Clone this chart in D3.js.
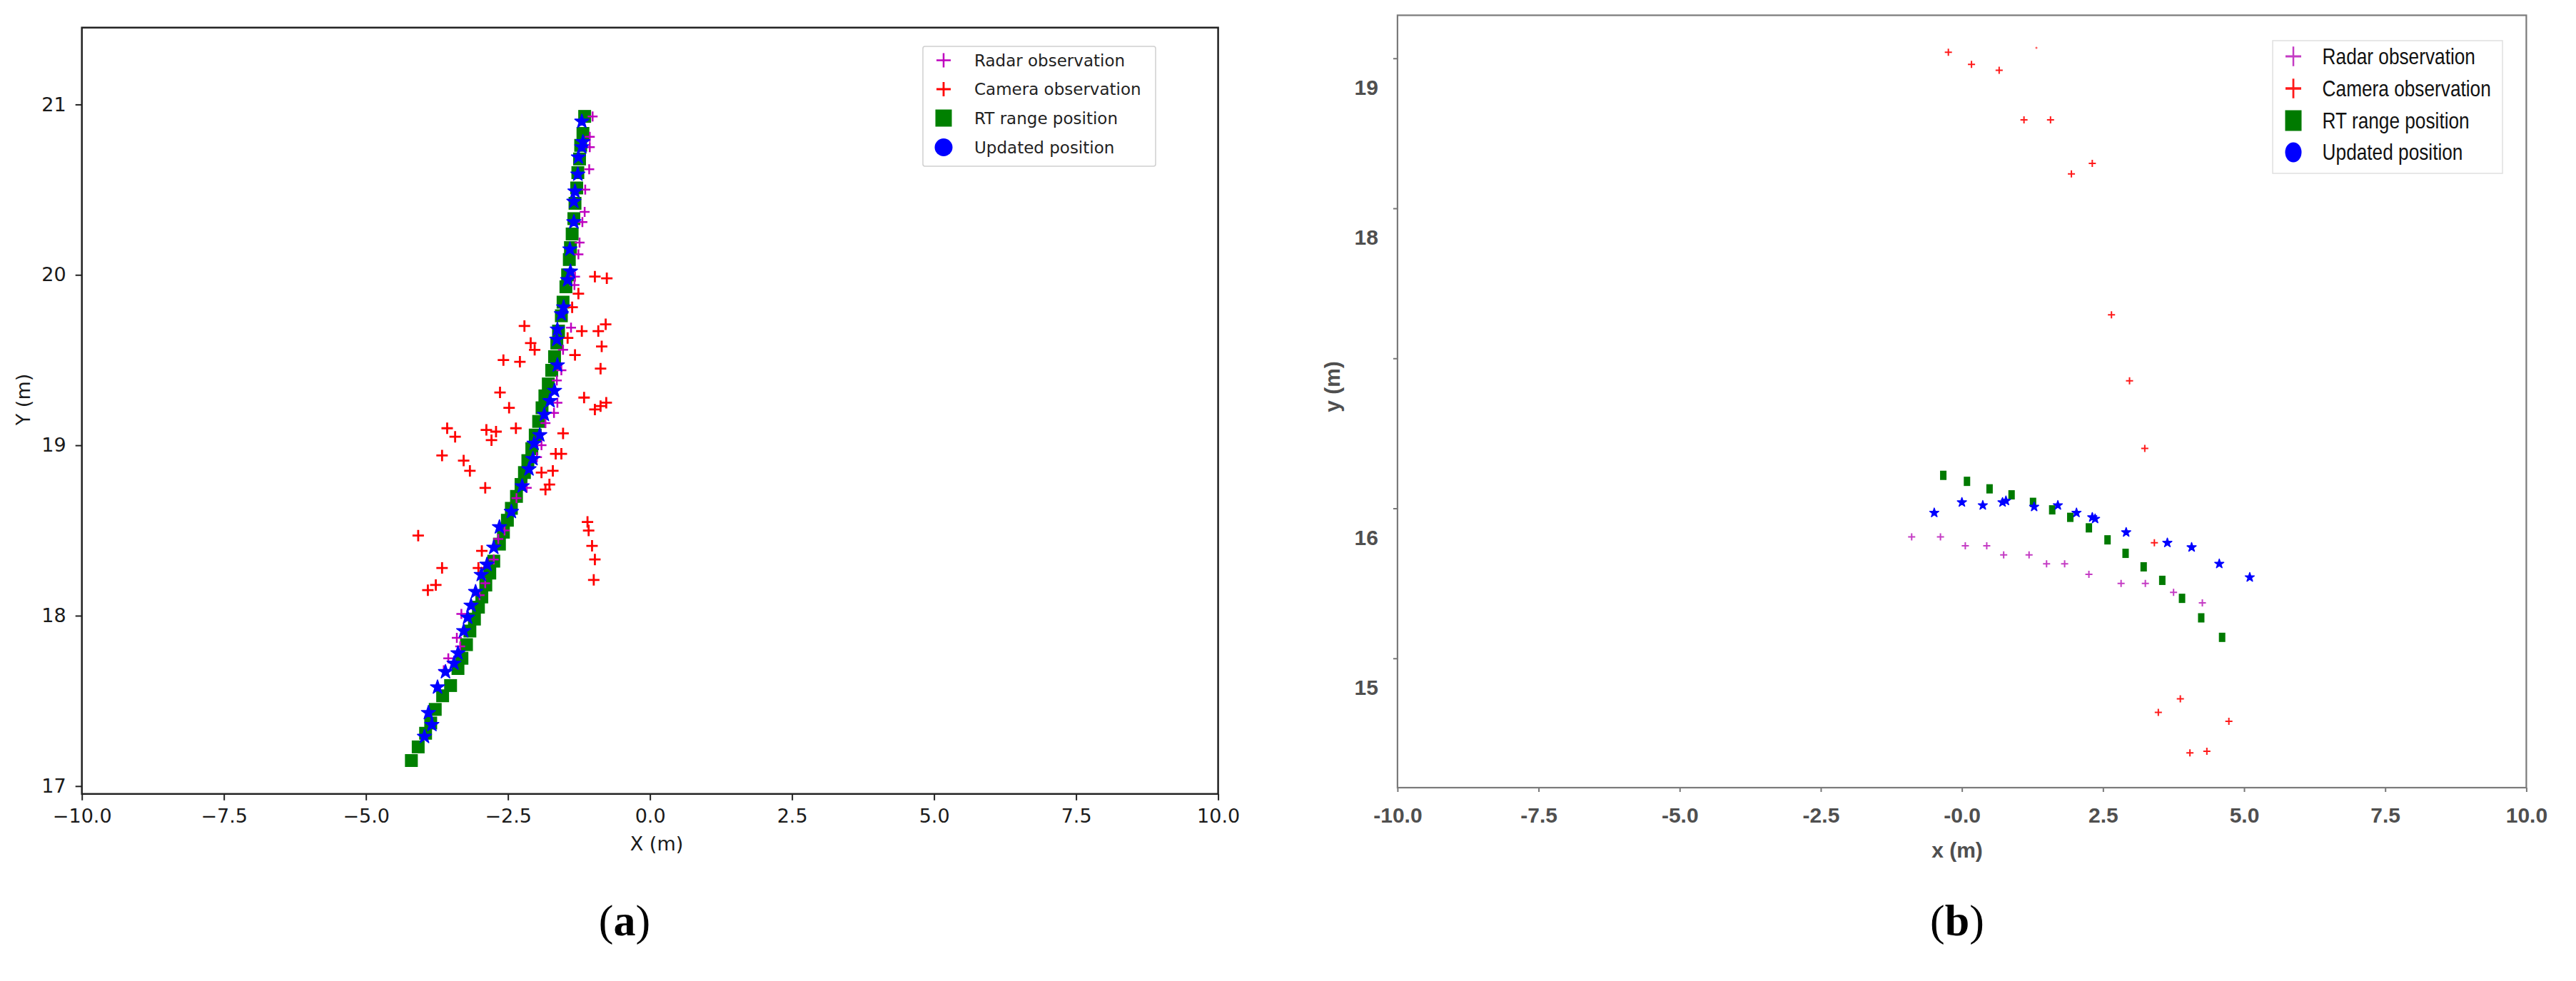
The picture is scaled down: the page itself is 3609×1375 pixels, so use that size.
<!DOCTYPE html>
<html>
<head>
<meta charset="utf-8">
<script src="https://cdnjs.cloudflare.com/ajax/libs/d3/7.8.5/d3.min.js"></script>
<style>
body { margin: 0; background: #fff; }
</style>
</head>
<body>
<div id="app"></div>
<script>
// ---- data, panel (a) ----
var xTicks = [-10, -7.5, -5, -2.5, 0, 2.5, 5, 7.5, 10];
var yTicksA = [17, 18, 19, 20, 21];
var rtRangeA = [[-1.15,20.93],[-1.18,20.83],[-1.22,20.76],[-1.24,20.68],[-1.27,20.60],[-1.29,20.51],[-1.32,20.42],[-1.34,20.33],[-1.37,20.24],[-1.40,20.16],[-1.42,20.09],[-1.45,20.00],[-1.48,19.93],[-1.53,19.84],[-1.56,19.76],[-1.61,19.67],[-1.64,19.60],[-1.68,19.52],[-1.73,19.44],[-1.79,19.36],[-1.85,19.29],[-1.90,19.22],[-1.96,19.14],[-2.02,19.06],[-2.08,18.98],[-2.15,18.91],[-2.21,18.84],[-2.27,18.77],[-2.35,18.70],[-2.44,18.63],[-2.51,18.56],[-2.58,18.49],[-2.65,18.42],[-2.75,18.32],[-2.82,18.25],[-2.89,18.18],[-2.96,18.11],[-3.02,18.05],[-3.09,17.98],[-3.17,17.91],[-3.23,17.83],[-3.31,17.75],[-3.38,17.69],[-3.51,17.59],[-3.65,17.53],[-3.78,17.45],[-3.86,17.37],[-3.95,17.31],[-4.08,17.23],[-4.20,17.15]];
var updatedA = [[-1.20,20.90],[-1.18,20.78],[-1.20,20.75],[-1.26,20.69],[-1.27,20.59],[-1.32,20.49],[-1.34,20.43],[-1.34,20.31],[-1.41,20.15],[-1.40,20.02],[-1.45,19.97],[-1.52,19.81],[-1.56,19.77],[-1.63,19.68],[-1.64,19.62],[-1.63,19.47],[-1.68,19.32],[-1.76,19.26],[-1.86,19.18],[-1.94,19.06],[-2.04,19.01],[-2.06,18.92],[-2.13,18.86],[-2.25,18.76],[-2.44,18.61],[-2.65,18.52],[-2.75,18.40],[-2.87,18.30],[-2.97,18.24],[-3.07,18.14],[-3.15,18.06],[-3.21,17.99],[-3.28,17.91],[-3.38,17.78],[-3.45,17.72],[-3.60,17.67],[-3.74,17.58],[-3.90,17.43],[-3.84,17.36],[-3.97,17.29]];
var radarA = [[-1.01,20.93],[-1.06,20.81],[-1.06,20.75],[-1.07,20.62],[-1.14,20.50],[-1.15,20.37],[-1.19,20.31],[-1.24,20.19],[-1.26,20.12],[-1.32,19.99],[-1.33,19.94],[-1.39,19.69],[-1.53,19.56],[-1.56,19.44],[-1.64,19.38],[-1.63,19.25],[-1.69,19.19],[-1.84,19.13],[-1.91,19.00],[-1.99,18.93],[-2.17,18.75],[-2.35,18.69],[-2.56,18.50],[-2.67,18.45],[-2.75,18.33],[-2.90,18.19],[-3.00,18.12],[-3.32,18.01],[-3.40,17.87],[-3.34,17.82],[-3.55,17.75],[-3.63,17.68]];
var cameraA = [[-0.97,19.99],[-0.76,19.98],[-1.26,19.89],[-1.37,19.81],[-2.21,19.70],[-0.78,19.71],[-0.91,19.67],[-1.20,19.67],[-1.45,19.63],[-2.10,19.60],[-2.03,19.56],[-0.85,19.58],[-2.58,19.50],[-2.29,19.49],[-1.32,19.53],[-0.87,19.45],[-2.64,19.31],[-2.48,19.22],[-1.16,19.28],[-0.77,19.25],[-0.87,19.23],[-0.97,19.21],[-3.57,19.10],[-3.43,19.05],[-2.88,19.09],[-2.71,19.08],[-2.79,19.03],[-2.36,19.10],[-1.53,19.07],[-3.66,18.94],[-3.28,18.91],[-3.17,18.85],[-1.66,18.95],[-1.56,18.95],[-1.91,18.84],[-1.71,18.85],[-1.77,18.77],[-1.84,18.74],[-2.90,18.75],[-4.08,18.47],[-1.10,18.55],[-1.08,18.50],[-1.02,18.41],[-2.96,18.38],[-3.02,18.28],[-3.66,18.28],[-3.77,18.18],[-3.91,18.15],[-0.97,18.33],[-0.99,18.21]];

// ---- data, panel (b) ----
var yTicksB = [15, 16, 17, 18, 19];
var rtRangeB = [[-0.33,16.22],[0.09,16.18],[0.49,16.13],[0.88,16.09],[1.26,16.04],[1.60,15.99],[1.92,15.94],[2.25,15.87],[2.58,15.79],[2.90,15.70],[3.22,15.61],[3.55,15.52],[3.90,15.40],[4.24,15.27],[4.61,15.14]];
var updatedB = [[-0.49,15.97],[0.00,16.04],[0.37,16.02],[0.72,16.04],[0.78,16.05],[1.28,16.01],[1.70,16.02],[2.03,15.97],[2.31,15.94],[2.36,15.93],[2.91,15.84],[3.64,15.77],[4.07,15.74],[4.56,15.63],[5.10,15.54]];
var radarB = [[-0.89,15.81],[-0.38,15.81],[0.06,15.75],[0.44,15.75],[0.74,15.69],[1.19,15.69],[1.50,15.63],[1.82,15.63],[2.25,15.56],[2.82,15.50],[3.25,15.50],[3.75,15.44],[4.26,15.37]];
var cameraB = [[-0.24,19.04],[0.17,18.96],[0.66,18.92],[1.10,18.59],[1.57,18.59],[2.31,18.30],[1.94,18.23],[2.65,17.29],[2.97,16.85],[3.24,16.40],[3.41,15.77],[3.87,14.73],[3.48,14.64],[4.73,14.58],[4.04,14.37],[4.34,14.38]];
var cameraFaintB = [[1.32,19.07]];

var legendLabels = ["Radar observation", "Camera observation", "RT range position", "Updated position"];

var svgWidth = 3609, svgHeight = 1375;
var svg = d3.select('#app').append('svg')
    .attr('width', svgWidth).attr('height', svgHeight)
    .style('background-color', '#fff');

function plus(s) { return 'M' + (-s) + ',0H' + s + 'M0,' + (-s) + 'V' + s; }

// =========== PANEL (a) ===========
var boxA = {left: 114.7, right: 1706.6, top: 38.7, bottom: 1112.8};
var xA = d3.scaleLinear().domain([-10, 10]).range([boxA.left, boxA.right]);
var yA = d3.scaleLinear().domain([16.954, 21.451]).range([boxA.bottom, boxA.top]);
var fontA = 'DejaVu Sans';

var gA = svg.append('g');
var axA = gA.append('g').attr('transform', 'translate(0,' + boxA.bottom + ')')
    .call(d3.axisBottom(xA).tickValues(xTicks).tickSize(9).tickPadding(12).tickFormat(d3.format('.1f')));
var ayA = gA.append('g').attr('transform', 'translate(' + boxA.left + ',0)')
    .call(d3.axisLeft(yA).tickValues(yTicksA).tickSize(9).tickPadding(13).tickFormat(d3.format('d')));
[axA, ayA].forEach(function (a) {
    a.select('.domain').remove();
    a.selectAll('line').attr('stroke', '#222').attr('stroke-width', 2);
    a.selectAll('text').attr('font-family', fontA).attr('font-size', 27).attr('fill', '#1a1a1a');
});

var marksA = gA.append('g');
marksA.selectAll('rect.rt').data(rtRangeA).join('rect').attr('class', 'rt')
    .attr('x', function (d) { return xA(d[0]) - 9; })
    .attr('y', function (d) { return yA(d[1]) - 9; })
    .attr('width', 18).attr('height', 18).attr('fill', '#008000');
marksA.selectAll('path.radar').data(radarA).join('path').attr('class', 'radar')
    .attr('d', plus(7)).attr('stroke', '#bf00bf').attr('stroke-width', 2.5).attr('fill', 'none')
    .attr('transform', function (d) { return 'translate(' + xA(d[0]) + ',' + yA(d[1]) + ')'; });
marksA.selectAll('path.cam').data(cameraA).join('path').attr('class', 'cam')
    .attr('d', plus(8)).attr('stroke', '#ff0000').attr('stroke-width', 2.8).attr('fill', 'none')
    .attr('transform', function (d) { return 'translate(' + xA(d[0]) + ',' + yA(d[1]) + ')'; });
marksA.selectAll('path.upd').data(updatedA).join('path').attr('class', 'upd')
    .attr('d', d3.symbol().type(d3.symbolStar).size(120)()).attr('fill', '#0000ff')
    .attr('stroke', '#0000ff').attr('stroke-width', 1.5).attr('stroke-linejoin', 'round')
    .attr('transform', function (d) { return 'translate(' + xA(d[0]) + ',' + yA(d[1]) + ')'; });

gA.append('rect').attr('x', boxA.left).attr('y', boxA.top)
    .attr('width', boxA.right - boxA.left).attr('height', boxA.bottom - boxA.top)
    .attr('fill', 'none').attr('stroke', '#222').attr('stroke-width', 2.5);

gA.append('text').attr('x', 920).attr('y', 1182).attr('text-anchor', 'middle').attr('dominant-baseline', 'central')
    .attr('font-family', fontA).attr('font-size', 27).attr('fill', '#1a1a1a').text('X (m)');
gA.append('text').attr('transform', 'translate(32,560) rotate(-90)').attr('text-anchor', 'middle')
    .attr('dominant-baseline', 'central').attr('font-family', fontA).attr('font-size', 27)
    .attr('fill', '#1a1a1a').text('Y (m)');

// legend (a)
var legA = gA.append('g');
legA.append('rect').attr('x', 1293).attr('y', 65).attr('width', 326).attr('height', 168).attr('rx', 3)
    .attr('fill', '#fff').attr('stroke', '#cfcfcf').attr('stroke-width', 1.5);
var rowsA = [84.5, 125, 165.5, 206.5];
legA.append('path').attr('d', plus(10)).attr('transform', 'translate(1322,' + rowsA[0] + ')')
    .attr('stroke', '#bf00bf').attr('stroke-width', 2.5);
legA.append('path').attr('d', plus(10)).attr('transform', 'translate(1322,' + rowsA[1] + ')')
    .attr('stroke', '#ff0000').attr('stroke-width', 2.8);
legA.append('rect').attr('x', 1310.5).attr('y', rowsA[2] - 12).attr('width', 23).attr('height', 24).attr('fill', '#008000');
legA.append('circle').attr('cx', 1322).attr('cy', rowsA[3]).attr('r', 12.5).attr('fill', '#0000ff');
legA.selectAll('text').data(legendLabels).join('text')
    .attr('x', 1365).attr('y', function (d, i) { return rowsA[i]; })
    .attr('dominant-baseline', 'central').attr('font-family', fontA).attr('font-size', 23)
    .attr('fill', '#222').text(function (d) { return d; });

// =========== PANEL (b) ===========
var boxB = {left: 1957.9, right: 3539.4, top: 21.4, bottom: 1104};
var xB = d3.scaleLinear().domain([-10, 10]).range([boxB.left, boxB.right]);
var yB = d3.scaleLinear().domain([14.138, 19.287]).range([boxB.bottom, boxB.top]);
var fontB = 'Liberation Sans, Arial, sans-serif';
var greyB = '#4f4f4f';

var gB = svg.append('g');
var axB = gB.append('g').attr('transform', 'translate(0,' + boxB.bottom + ')')
    .call(d3.axisBottom(xB).tickValues(xTicks).tickSize(6).tickPadding(22)
        .tickFormat(function (d) { return (d <= 0 ? '-' : '') + Math.abs(d).toFixed(1); }));
var ayB = gB.append('g').attr('transform', 'translate(' + boxB.left + ',0)')
    .call(d3.axisLeft(yB).tickValues(yTicksB).tickSize(6).tickPadding(21)
        .tickFormat(function (d) { return d === 17 ? '' : d; }));
[axB, ayB].forEach(function (a) {
    a.select('.domain').remove();
    a.selectAll('line').attr('stroke', '#777').attr('stroke-width', 2);
    a.selectAll('text').attr('font-family', fontB).attr('font-weight', 'bold')
        .attr('font-size', 30).attr('fill', greyB);
});
// the labels of the left axis sit lower than their ticks in the original
ayB.selectAll('text').attr('dy', '1.69em');

var marksB = gB.append('g');
marksB.selectAll('rect').data(rtRangeB).join('rect')
    .attr('x', function (d) { return xB(d[0]) - 4.5; })
    .attr('y', function (d) { return yB(d[1]) - 6.5; })
    .attr('width', 9).attr('height', 13).attr('fill', '#007a00');
marksB.selectAll('path.radar').data(radarB).join('path').attr('class', 'radar')
    .attr('d', plus(5)).attr('stroke', '#c43cc4').attr('stroke-width', 2).attr('fill', 'none')
    .attr('transform', function (d) { return 'translate(' + xB(d[0]) + ',' + yB(d[1]) + ')'; });
marksB.selectAll('path.cam').data(cameraB).join('path').attr('class', 'cam')
    .attr('d', plus(5)).attr('stroke', '#ff1a1a').attr('stroke-width', 2).attr('fill', 'none')
    .attr('transform', function (d) { return 'translate(' + xB(d[0]) + ',' + yB(d[1]) + ')'; });
marksB.selectAll('circle.faint').data(cameraFaintB).join('circle').attr('class', 'faint')
    .attr('cx', function (d) { return xB(d[0]); }).attr('cy', function (d) { return yB(d[1]); })
    .attr('r', 1.5).attr('fill', '#ff6060');
marksB.selectAll('path.upd').data(updatedB).join('path').attr('class', 'upd')
    .attr('d', d3.symbol().type(d3.symbolStar).size(50)()).attr('fill', '#0000ff')
    .attr('stroke', '#0000ff').attr('stroke-width', 1.5).attr('stroke-linejoin', 'round')
    .attr('transform', function (d) { return 'translate(' + xB(d[0]) + ',' + yB(d[1]) + ')'; });

gB.append('rect').attr('x', boxB.left).attr('y', boxB.top)
    .attr('width', boxB.right - boxB.left).attr('height', boxB.bottom - boxB.top)
    .attr('fill', 'none').attr('stroke', '#7a7a7a').attr('stroke-width', 2.2);

gB.append('text').attr('x', 2742).attr('y', 1191).attr('text-anchor', 'middle').attr('dominant-baseline', 'central')
    .attr('font-family', fontB).attr('font-weight', 'bold').attr('font-size', 30).attr('fill', greyB).text('x (m)');
gB.append('text').attr('transform', 'translate(1866,542) rotate(-90)').attr('text-anchor', 'middle')
    .attr('dominant-baseline', 'central').attr('font-family', fontB).attr('font-weight', 'bold')
    .attr('font-size', 30).attr('fill', greyB).text('y (m)');

// legend (b) - the original legend is horizontally squeezed
var legB = gB.append('g');
legB.append('rect').attr('x', 3184).attr('y', 57).attr('width', 322).attr('height', 186)
    .attr('fill', '#fff').attr('stroke', '#e0e0e0').attr('stroke-width', 1.5);
var rowsB = [79, 124, 169, 213.5];
legB.append('path').attr('d', plus(11)).attr('transform', 'translate(3213,' + rowsB[0] + ') scale(1,1.25)')
    .attr('stroke', '#c43cc4').attr('stroke-width', 2.5);
legB.append('path').attr('d', plus(11)).attr('transform', 'translate(3213,' + rowsB[1] + ') scale(1,1.25)')
    .attr('stroke', '#ff1a1a').attr('stroke-width', 2.8);
legB.append('rect').attr('x', 3201.5).attr('y', rowsB[2] - 14.5).attr('width', 23).attr('height', 29).attr('fill', '#007a00');
legB.append('ellipse').attr('cx', 3213).attr('cy', rowsB[3]).attr('rx', 11.5).attr('ry', 14).attr('fill', '#0000ff');
legB.selectAll('text').data(legendLabels).join('text')
    .attr('transform', function (d, i) { return 'translate(3253.6,' + rowsB[i] + ') scale(0.82,1)'; })
    .attr('dominant-baseline', 'central')
    .attr('font-family', fontB)
    .attr('font-size', 32).attr('fill', '#111').text(function (d) { return d; });

// captions
[['a', 875], ['b', 2742]].forEach(function (c) {
    var t = svg.append('text').attr('x', c[1]).attr('y', 1290).attr('text-anchor', 'middle')
        .attr('dominant-baseline', 'central').attr('font-family', '"Liberation Serif", serif')
        .attr('font-size', 62).attr('fill', '#000');
    t.append('tspan').text('(');
    t.append('tspan').attr('font-weight', 'bold').text(c[0]);
    t.append('tspan').text(')');
});
</script>
</body>
</html>
